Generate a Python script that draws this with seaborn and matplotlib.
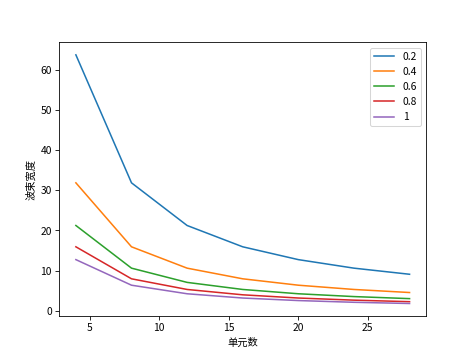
import matplotlib
matplotlib.use("Agg")
import matplotlib.pyplot as plt
import pandas as pd
import seaborn as sns

plt.rcParams['font.family'] = ['Noto Sans CJK SC', 'DejaVu Sans']
plt.rcParams['axes.unicode_minus'] = False

# 单元数
units = [4, 8, 12, 16, 20, 24, 28]
labels = ["0.2", "0.4", "0.6", "0.8", "1"]
w02 = [63.66, 31.83, 21.22, 15.92, 12.73, 10.61, 9.09]
w04 = [31.83, 15.92, 10.61, 7.96, 6.37, 5.31, 4.55]
w06 = [21.22, 10.61, 7.07, 5.31, 4.24, 3.54, 3.03]
w08 = [15.92, 7.96, 5.31, 3.98, 3.18, 2.65, 2.27]
w10 = [12.73, 6.37, 4.24, 3.18, 2.55, 2.12, 1.82]

rows = []
for lab, vals in zip(labels, [w02, w04, w06, w08, w10]):
    for u, v in zip(units, vals):
        rows.append({"单元数": u, "波束宽度": v, "k": lab})
df = pd.DataFrame(rows)

fig, ax = plt.subplots(figsize=(6.4, 4.8), dpi=74)
sns.lineplot(data=df, x="单元数", y="波束宽度", hue="k", hue_order=labels,
             palette="tab10", ax=ax, linewidth=1.5)
handles, labs = ax.get_legend_handles_labels()
ax.legend(handles, labs, loc="upper right")
ax.set_xlabel("单元数")
ax.set_ylabel("波束宽度")
fig.savefig("out.png", dpi=74)
